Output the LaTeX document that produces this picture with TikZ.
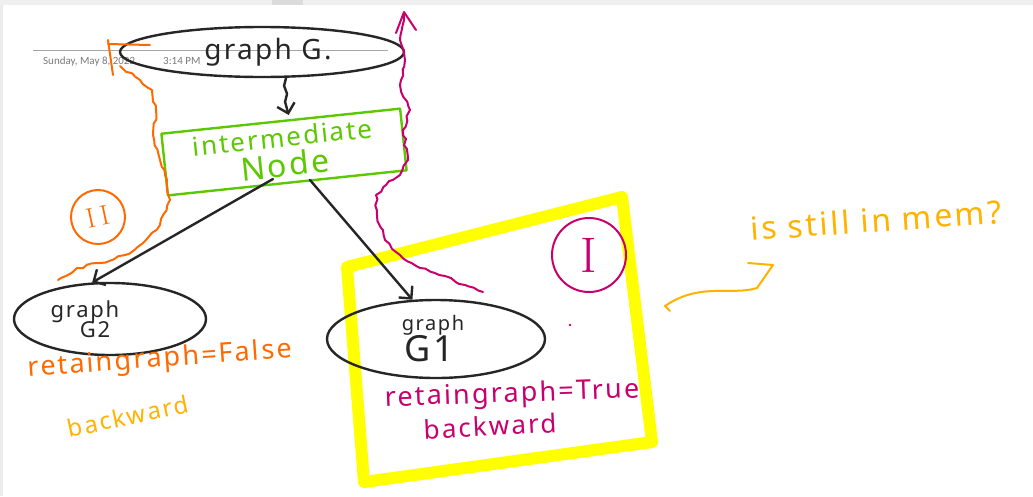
\documentclass[tikz,border=0pt]{standalone}
\usepackage{fontspec}
\newfontfamily\handfont{Noto Sans}
\newfontfamily\widehand{Noto Sans}[LetterSpace=8]
\newfontfamily\datefont{Carlito}
\usetikzlibrary{shapes.geometric,arrows.meta,decorations.pathmorphing,calc}

\definecolor{inkblack}{HTML}{262626}
\definecolor{inkgreen}{HTML}{5CC800}
\definecolor{inkorange}{HTML}{FF6A00}
\definecolor{inkamber}{HTML}{FFB300}
\definecolor{inkmagenta}{HTML}{C8006E}
\definecolor{hiyellow}{HTML}{FFFF00}
\definecolor{dategray}{HTML}{7A7A7A}

\begin{document}
\begin{tikzpicture}[x=1pt,y=-1pt,
  pen/.style={line width=2.4pt, line cap=round, line join=round},
  hand/.style={font=\handfont\fontsize{#1}{#1}\selectfont},
  widetext/.style={font=\widehand\fontsize{#1}{#1}\selectfont},
  graphnode/.style={ellipse, draw=inkblack, pen, align=center, inner sep=0pt, text=inkblack},
  link/.style={pen, draw=inkblack, -{Straight Barb[length=9pt,width=18pt]}},
  wiggle/.style={decorate, decoration={random steps, segment length=5pt, amplitude=1.5pt}},
  ink/.style={line width=2pt, line cap=round, line join=round},
  datetext/.style={anchor=base west, text=dategray, font=\datefont\fontsize{11}{12}\selectfont, inner sep=0pt},
]
\pgfmathsetseed{7}
\useasboundingbox (0,0) rectangle (1033,496);
\fill[white] (0,0) rectangle (1033,496);
% window chrome
\fill[gray!12] (0,0) rectangle (1033,5);
\fill[gray!28] (272,0) rectangle (303,5);
\fill[gray!15] (0,5) rectangle (3,496);

% page title line and date
\draw[gray!70, line width=0.8pt] (33,50) -- (388,50);
\node[datetext] (date) at (43,64) {Sunday, May 8, 2022};
\node[datetext] (time) at (163,64) {3:14 PM};

% yellow highlight box
\draw[hiyellow, line width=12pt, line join=round] (347,267) -- (622,197) -- (652,442) -- (364,482) -- cycle;

% graph nodes
\node[graphnode, minimum width=284, minimum height=50, widetext=28] (G) at (262,52) {\hspace*{12pt}graph G.};
\node[draw=inkgreen, pen, rotate=6, minimum width=240, minimum height=62, text=inkgreen,
      align=center, inner sep=0pt] (inter) at (284,152)
      {{\widehand\fontsize{26}{26}\selectfont intermediate}\\[4pt]{\widehand\fontsize{32}{32}\selectfont Node}};
\node[graphnode, minimum width=192, minimum height=72, widetext=22] (G2) at (110,319)
      {\hspace*{-50pt}graph\\[-2pt]\hspace*{-30pt}G2};
\node[graphnode, minimum width=218, minimum height=78] (G1) at (436,339)
      {{\widehand\fontsize{20}{20}\selectfont\hspace*{-6pt}graph}\\[-1pt]{\widehand\fontsize{36}{36}\selectfont\hspace*{-14pt}G1}};

% connectors
\draw[link] (G.-47) -- ++(-2,8) -- ++(3,8) -- ++(-2,8) -- ($(inter.north)+(8,-5)$);
\draw[link] ($(inter.center)+(-11,27)$) -- (G2.116);
\draw[link] ($(inter.center)+(26,28)$) -- (G1.121);

% circled numerals
\node[circle, draw=inkmagenta, line width=2pt, minimum width=74, inner sep=0pt, text=inkmagenta,
      font=\fontsize{50}{50}\selectfont] (one) at (589,255) {I};
\node[circle, draw=inkorange, line width=2pt, minimum width=54, inner sep=0pt, text=inkorange,
      font=\fontsize{28}{28}\selectfont, rotate=12] (two) at (98,217) {I\kern5pt I};

% labels
\node[text=inkorange, rotate=4, widetext=27] (rgf) at (160,360) {retaingraph=False};
\node[text=inkamber, rotate=12, widetext=24] (bw2) at (128,416) {backward};
\node[text=inkmagenta, rotate=2, widetext=27] (rgt) at (512,395) {retaingraph=True};
\node[text=inkmagenta, rotate=3, widetext=26] (bw1) at (490,426) {backward};
\node[text=inkamber, rotate=4, widetext=32] (mem) at (876,220) {is still in mem?};
\fill[inkmagenta] (570,325) circle (1.4);

% magenta path back to graph G
\draw[inkmagenta, ink, wiggle] (483,292) -- (465,285) -- (445,276) -- (420,268) -- (400,255) -- (385,240)
   -- (377,215) -- (376,195) -- (386,185) -- (400,175) -- (408,160) -- (403,130) -- (410,110)
   -- (400,85) -- (405,60) -- (400,40) -- (404,14);
\draw[inkmagenta, ink] (396,33) -- (404,12) -- (416,30);

% orange path back to graph G
\draw[inkorange, ink, wiggle] (58,280) -- (77,268) -- (100,263) -- (125,255) -- (143,243) -- (160,225)
   -- (170,200) -- (167,180) -- (160,160) -- (153,135) -- (156,110) -- (152,90) -- (140,80) -- (120,66);
\draw[inkorange, ink] (113,75) -- (108,40);
\draw[inkorange, ink] (108,44) -- (150,45);

% amber arrow towards the question
\draw[inkamber, ink] (670,311) -- (665,306) .. controls (700,282) and (730,296) .. (757,288) -- (773,265) -- (748,263);
\end{tikzpicture}
\end{document}
